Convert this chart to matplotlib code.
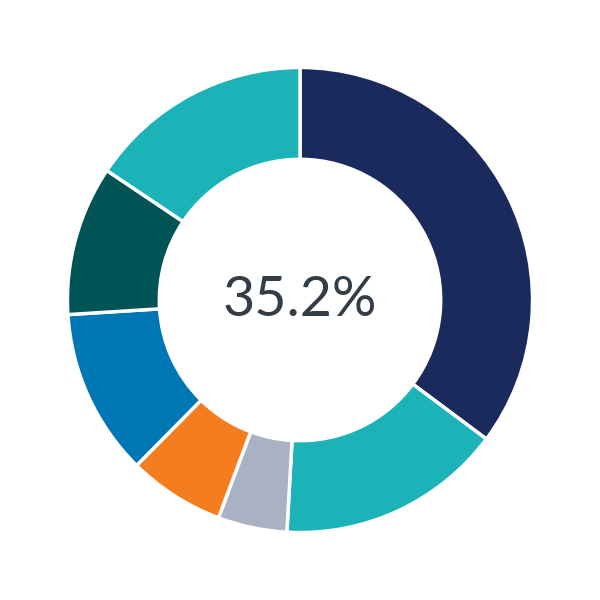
import matplotlib.pyplot as plt

# segment shares, clockwise from 12 o'clock
labels = ["Navy", "Teal", "Gray", "Orange", "Blue", "Dark green", "Teal 2"]
shares = [35.2, 15.7, 4.8, 6.7, 11.6, 10.4, 15.6]
colors = ["#1b2a5c", "#1bb3b7", "#a8b2c2", "#f47d20", "#0077b5", "#005456", "#1bb3b7"]
center_text = "35.2%"

fig = plt.figure(figsize=(6, 6), dpi=100)
ax = fig.add_axes([0, 0, 1, 1])

ax.pie(shares, colors=colors, startangle=90, counterclock=False,
       radius=1.0,
       wedgeprops=dict(width=0.395, edgecolor="white", linewidth=2.5))

ax.text(0, 0, center_text, ha="center", va="center",
        fontsize=40, color="#343c46", family=["Lato", "DejaVu Sans"])

ax.set_xlim(-1.29, 1.29)
ax.set_ylim(-1.29, 1.29)
ax.set_aspect("equal")
ax.axis("off")

fig.savefig("out.png", dpi=100, facecolor="white")
